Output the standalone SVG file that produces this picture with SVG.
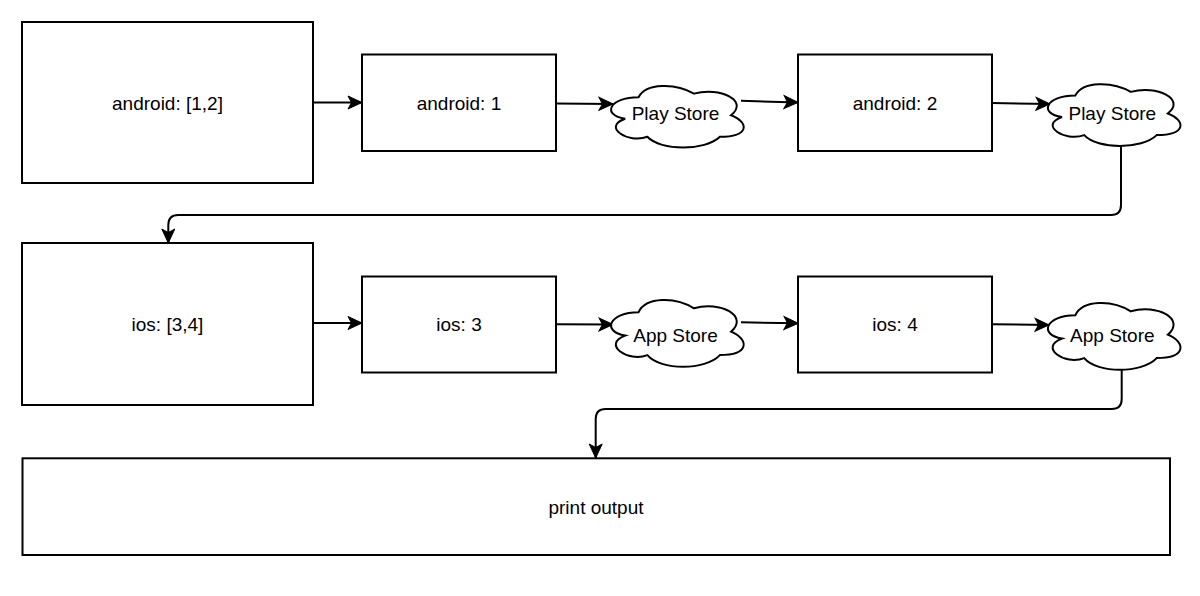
<svg xmlns="http://www.w3.org/2000/svg" width="1200" height="596" viewBox="0 0 1200 596">
  <defs>
    <marker id="arrow" markerUnits="userSpaceOnUse" markerWidth="16" markerHeight="16" viewBox="-15 -8 16 16" refX="0" refY="0" orient="auto">
      <path d="M0,0 L-14,-6.5 L-10.5,0 L-14,6.5 Z" fill="#000" stroke="#000" stroke-width="1"/>
    </marker>
    <!-- drawio-style cloud outlines, two heights -->
    <path id="cloudA" d="M37,18 C7.4,18 0,36 23.68,39.6 C0,47.52 26.64,64.8 45.88,57.6 C59.2,72 103.6,72 118.4,57.6 C148,57.6 148,43.2 129.5,36 C148,21.6 118.4,7.2 92.5,14.4 C74,3.6 44.4,3.6 37,18 Z"/>
    <path id="cloudB" d="M37,19.5 C7.4,19.5 0,39 23.68,42.9 C0,51.48 26.64,70.2 45.88,62.4 C59.2,78 103.6,78 118.4,62.4 C148,62.4 148,46.8 129.5,39 C148,23.4 118.4,7.8 92.5,15.6 C74,3.9 44.4,3.9 37,19.5 Z"/>
  </defs>
  <style>
    .box { fill: #fff; stroke: #000; stroke-width: 2; }
    .cloud { fill: #fff; stroke: #000; stroke-width: 2; }
    .label { font-family: "Liberation Sans", Arial, Helvetica, sans-serif; font-size: 19px; fill: #000; text-anchor: middle; }
    .edge { fill: none; stroke: #000; stroke-width: 2; marker-end: url(#arrow); }
  </style>

  <rect width="1200" height="596" fill="#fff"/>

  <!-- connectors -->
  <g id="connectors">
    <path class="edge" d="M313,102.5 L362,102.5"/>
    <path class="edge" d="M556,103.5 L613,104"/>
    <path class="edge" d="M741,100.8 L798,102.5"/>
    <path class="edge" d="M992,103 L1050,104"/>
    <path class="edge" d="M1121,146 L1121,205 Q1121,215 1111,215 L178.3,215 Q168.3,215 168.3,225 L168.3,243"/>

    <path class="edge" d="M313,323 L362,323"/>
    <path class="edge" d="M556,324.3 L613,324.5"/>
    <path class="edge" d="M741,322.3 L798,323.3"/>
    <path class="edge" d="M992,324.3 L1049,325"/>
    <path class="edge" d="M1121.7,368 L1121.7,399 Q1121.7,409 1111.7,409 L605.7,409 Q595.7,409 595.7,419 L595.7,458"/>
  </g>

  <!-- row 1 -->
  <g id="android-all">
    <rect class="box" x="22" y="22" width="291" height="161"/>
    <text class="label" x="167.5" y="109.5">android: [1,2]</text>
  </g>
  <g id="android-1">
    <rect class="box" x="362" y="54.5" width="194" height="96.5"/>
    <text class="label" x="459" y="110">android: 1</text>
  </g>
  <g id="play-store-1">
    <use href="#cloudA" class="cloud" transform="translate(601.5,79.2)"/>
    <text class="label" x="675.5" y="119.5">Play Store</text>
  </g>
  <g id="android-2">
    <rect class="box" x="798" y="54.5" width="194" height="96.5"/>
    <text class="label" x="895" y="110">android: 2</text>
  </g>
  <g id="play-store-2">
    <use href="#cloudA" class="cloud" transform="translate(1038.3,77.5)"/>
    <text class="label" x="1112.3" y="119.5">Play Store</text>
  </g>

  <!-- row 2 -->
  <g id="ios-all">
    <rect class="box" x="22" y="243" width="291" height="162"/>
    <text class="label" x="167.5" y="331">ios: [3,4]</text>
  </g>
  <g id="ios-3">
    <rect class="box" x="362" y="276.5" width="194" height="96"/>
    <text class="label" x="459" y="331">ios: 3</text>
  </g>
  <g id="app-store-1">
    <use href="#cloudB" class="cloud" transform="translate(601.5,292.7)"/>
    <text class="label" x="675.5" y="342">App Store</text>
  </g>
  <g id="ios-4">
    <rect class="box" x="798" y="276.5" width="194" height="96"/>
    <text class="label" x="895" y="331">ios: 4</text>
  </g>
  <g id="app-store-2">
    <use href="#cloudB" class="cloud" transform="translate(1038.3,295.7)"/>
    <text class="label" x="1112.3" y="342">App Store</text>
  </g>

  <!-- bottom -->
  <g id="print-output">
    <rect class="box" x="22.5" y="458.3" width="1147.5" height="96.7"/>
    <text class="label" x="596" y="514">print output</text>
  </g>
</svg>
